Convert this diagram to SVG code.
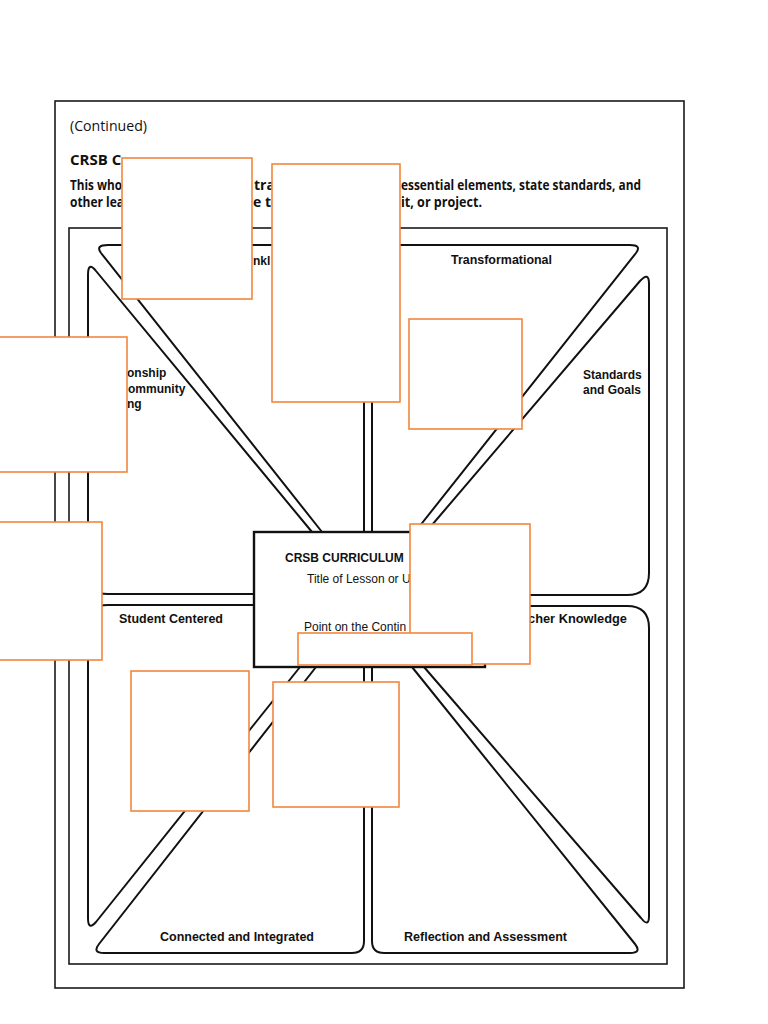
<svg xmlns="http://www.w3.org/2000/svg" width="768" height="1024" viewBox="0 0 768 1024">
<style>
.frame{fill:none;stroke:#1a1a1a;stroke-width:1.6}
.region{fill:none;stroke:#111;stroke-width:2;stroke-linejoin:round;stroke-linecap:round}
.hd{font-family:"Open Sans","Liberation Sans",sans-serif;fill:#111}
.lbl{font-family:"Liberation Sans",Arial,sans-serif;font-weight:700;font-size:12px;fill:#111}
.ctr{font-family:"Liberation Sans",Arial,sans-serif;font-size:12px;fill:#111}
.mask{fill:#fff;stroke:#f0883e;stroke-width:1.6}
</style>
<rect width="768" height="1024" fill="#fff"/>
<g id="page">
<rect class="frame" x="55" y="101" width="629" height="887"/>
<rect class="frame" x="69" y="228" width="598" height="736"/>
</g>
<g id="heading">
<text class="hd" x="70" y="131" font-size="15" textLength="77" lengthAdjust="spacingAndGlyphs">(Continued)</text>
<text class="hd" x="70" y="165" font-size="15" font-weight="700">CRSB C</text>
<text class="hd" x="70" y="190" font-size="14" font-weight="700" textLength="52" lengthAdjust="spacingAndGlyphs">This who</text>
<text class="hd" x="254" y="190" font-size="14" font-weight="700">trati</text>
<text class="hd" x="401" y="190" font-size="14" font-weight="700" textLength="240" lengthAdjust="spacingAndGlyphs">essential elements, state standards, and</text>
<text class="hd" x="70" y="207" font-size="14" font-weight="700" textLength="54" lengthAdjust="spacingAndGlyphs">other lea</text>
<text class="hd" x="253" y="207" font-size="14" font-weight="700">e tog</text>
<text class="hd" x="401" y="207" font-size="14" font-weight="700" textLength="81" lengthAdjust="spacingAndGlyphs">it, or project.</text>
</g>
<g id="connectors">
<path id="top-left" class="region" d="M364,532 L364,256 Q364,245 353,245 L108,245 Q95,245 101,253 L322,532"/>
<path id="top-right" class="region" d="M372,532 L372,256 Q372,245 383,245 L630,245 Q642,245 636,253 L415,532"/>
<path id="left-top" class="region" d="M254,594 L108,594 Q88,594 88,574 L88,275 Q88,261 96,271 L312,532"/>
<path id="left-bottom" class="region" d="M254,605 L108,605 Q88,605 88,625 L88,918 Q88,931 96,922 L300,667"/>
<path id="bottom-left" class="region" d="M316,667 L99,944 Q92,953 104,953 L352,953 Q364,953 364,941 L364,667"/>
<path id="bottom-right" class="region" d="M412,667 L635,944 Q642,953 630,953 L384,953 Q372,953 372,941 L372,667"/>
<path id="right-top" class="region" d="M426,532 L640,281 Q649,271 649,284 L649,573 Q649,595 627,595 L485,595"/>
<path id="right-bottom" class="region" d="M424,667 L641,918 Q649,928 649,916 L649,628 Q649,606 627,606 L485,606"/>
</g>
<g id="labels">
<text class="lbl" x="253" y="265">nkl</text>
<text class="lbl" x="451" y="264" textLength="101" lengthAdjust="spacingAndGlyphs">Transformational</text>
<text class="lbl" x="127" y="377">onship</text>
<text class="lbl" x="128" y="393">ommunity</text>
<text class="lbl" x="127" y="408">ng</text>
<text class="lbl" x="583" y="379">Standards</text>
<text class="lbl" x="583" y="394">and Goals</text>
<text class="lbl" x="119" y="623" textLength="104" lengthAdjust="spacingAndGlyphs">Student Centered</text>
<text class="lbl" x="528" y="623" textLength="99" lengthAdjust="spacingAndGlyphs">cher Knowledge</text>
<text class="lbl" x="160" y="941" textLength="154" lengthAdjust="spacingAndGlyphs">Connected and Integrated</text>
<text class="lbl" x="404" y="941" textLength="163" lengthAdjust="spacingAndGlyphs">Reflection and Assessment</text>
</g>
<g id="center">
<rect x="254" y="532" width="231" height="135" fill="#fff" stroke="#111" stroke-width="2.4"/>
<text class="ctr" x="285" y="562" font-weight="700">CRSB CURRICULUM</text>
<text class="ctr" x="307" y="583">Title of Lesson or U</text>
<text class="ctr" x="304" y="631">Point on the Contin</text>
</g>
<g id="masks">
<rect class="mask" x="122" y="158" width="130" height="141"/>
<rect class="mask" x="272" y="164" width="128" height="238"/>
<rect class="mask" x="-2" y="337" width="129" height="135"/>
<rect class="mask" x="409" y="319" width="113" height="110"/>
<rect class="mask" x="-2" y="522" width="104" height="138"/>
<rect class="mask" x="410" y="524" width="120" height="140"/>
<rect class="mask" x="298" y="633" width="174" height="32"/>
<rect class="mask" x="131" y="671" width="118" height="140"/>
<rect class="mask" x="273" y="682" width="126" height="125"/>
</g>
</svg>
